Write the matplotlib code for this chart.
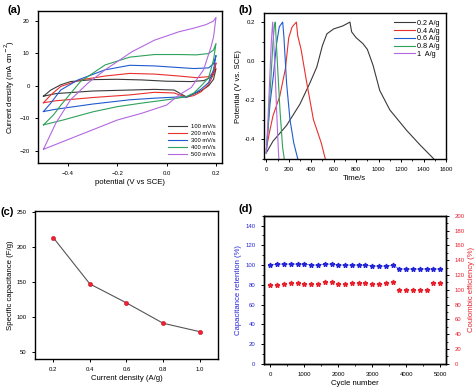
import numpy as np
import matplotlib.pyplot as plt
from matplotlib.ticker import AutoMinorLocator

plt.rcParams['font.family'] = ['Liberation Sans', 'DejaVu Sans']

# %% data
# (a) CV loops: forward (upper) and reverse (lower) branches
cv_labels = ["100 mV/s", "200 mV/s", "300 mV/s", "400 mV/s", "500 mV/s"]
cv_up_v = [
    [-0.5, -0.47, -0.43, -0.39, -0.3, -0.2, -0.1, 0.0, 0.1, 0.15, 0.18, 0.2],
    [-0.5, -0.47, -0.43, -0.35, -0.25, -0.15, -0.05, 0.05, 0.12, 0.17, 0.19, 0.2],
    [-0.5, -0.47, -0.43, -0.36, -0.25, -0.15, -0.05, 0.05, 0.11, 0.17, 0.19, 0.2],
    [-0.5, -0.46, -0.43, -0.35, -0.25, -0.15, -0.05, 0.05, 0.12, 0.17, 0.19, 0.2],
    [-0.5, -0.45, -0.39, -0.32, -0.25, -0.14, -0.05, 0.05, 0.11, 0.16, 0.19, 0.2],
]
cv_up_j = [
    [-3.2, -1.3, 0.3, 1.3, 1.9, 2.0, 1.8, 1.4, 1.3, 1.6, 2.6, 5.3],
    [-5.2, -2.8, -0.2, 1.8, 3.0, 3.8, 3.6, 3.0, 2.5, 2.8, 4.0, 7.0],
    [-7.9, -5.3, -1.3, 1.8, 4.9, 6.3, 6.1, 5.6, 5.3, 5.5, 6.8, 9.3],
    [-12.0, -9.0, -6.0, 1.3, 6.4, 8.8, 9.6, 9.6, 9.5, 9.9, 11.0, 13.0],
    [-19.5, -11.5, -4.3, 0.8, 4.9, 10.5, 14.0, 16.6, 17.7, 18.8, 19.9, 21.0],
]
cv_dn_v = [
    [0.2, 0.19, 0.17, 0.14, 0.11, 0.08, 0.06, 0.03, -0.05, -0.15, -0.3, -0.45, -0.5],
    [0.2, 0.19, 0.17, 0.14, 0.11, 0.08, 0.06, 0.03, -0.05, -0.15, -0.3, -0.45, -0.5],
    [0.2, 0.19, 0.17, 0.14, 0.11, 0.08, 0.06, 0.03, -0.05, -0.15, -0.3, -0.45, -0.5],
    [0.2, 0.19, 0.17, 0.14, 0.11, 0.08, 0.06, 0.0, -0.1, -0.2, -0.3, -0.42, -0.5],
    [0.2, 0.19, 0.18, 0.15, 0.1, 0.05, 0.0, -0.1, -0.2, -0.3, -0.4, -0.5],
]
cv_dn_j = [
    [5.3, 2.0, 0.0, -1.5, -2.5, -3.4, -2.6, -1.3, -1.1, -1.3, -1.6, -2.4, -3.2],
    [7.0, 3.5, 0.5, -1.8, -3.0, -3.5, -3.0, -2.2, -2.0, -2.8, -3.6, -4.6, -5.2],
    [9.3, 5.0, 1.0, -1.0, -2.4, -3.5, -3.4, -3.5, -3.8, -4.3, -5.6, -7.2, -7.9],
    [13.0, 8.0, 2.5, 0.0, -2.2, -3.3, -3.6, -4.3, -5.3, -6.4, -8.0, -10.5, -12.0],
    [21.0, 15.0, 12.0, 5.0, -0.5, -2.8, -5.9, -8.4, -10.5, -13.5, -16.5, -19.5],
]

# (b) GCD curves
gcd_labels = ["0.2 A/g", "0.4 A/g", "0.6 A/g", "0.8 A/g", "1  A/g"]
gcd_t = [
    [0, 60, 180, 300, 390, 450, 500, 540, 600, 680, 745,
     760, 800, 860, 900, 950, 1010, 1100, 1250, 1370, 1490],
    [0, 30, 60, 120, 170, 200, 230, 268, 280, 310, 360, 420, 490, 525],
    [0, 33, 62, 92, 116, 146, 157, 181, 211, 245, 280],
    [0, 20, 40, 60, 72, 80, 98, 122, 145, 160],
    [0, 15, 30, 45, 57, 75, 92, 107, 112],
]
gcd_v = [
    [-0.47, -0.41, -0.33, -0.22, -0.11, -0.03, 0.08, 0.14, 0.165, 0.18, 0.2,
     0.15, 0.12, 0.09, 0.06, -0.02, -0.15, -0.25, -0.355, -0.43, -0.5],
    [-0.45, -0.36, -0.28, -0.18, -0.04, 0.12, 0.175, 0.2, 0.13, 0.06, -0.11, -0.3, -0.42, -0.5],
    [-0.47, -0.22, -0.08, 0.09, 0.176, 0.2, 0.125, -0.114, -0.3, -0.42, -0.5],
    [-0.47, -0.3, -0.1, 0.1, 0.18, 0.2, 0.0, -0.25, -0.44, -0.5],
    [-0.47, -0.3, -0.1, 0.1, 0.2, 0.0, -0.25, -0.45, -0.5],
]

# (c) rate capability
cur_density = [0.2, 0.4, 0.6, 0.8, 1.0]
spec_cap = [213, 147, 120, 91, 79]

# (d) cycling
cycles = [0, 200, 400, 600, 800, 1000, 1200, 1400, 1600, 1800, 2000, 2200, 2400,
          2600, 2800, 3000, 3200, 3400, 3600, 3800, 4000, 4200, 4400, 4600, 4800, 5000]
retention = [100, 101, 101, 101, 101, 101, 100, 100, 101, 101, 100, 100, 100,
             100, 100, 99, 99, 99, 100, 96, 96, 96, 96, 96, 96, 96]
coulombic = [106, 107, 108, 109, 109, 108, 108, 108, 110, 110, 108, 108, 109,
             109, 109, 108, 108, 109, 110, 100, 100, 100, 100, 100, 109, 109]

colors = ["#3a3a3a", "#e8302c", "#1f5bd0", "#2ca25a", "#b468e0"]
tick_fs = 4.3
lab_fs = 5.6

fig = plt.figure(figsize=(4.74, 3.89), dpi=100)


def style(ax):
    for s in ax.spines.values():
        s.set_linewidth(1.0)
    ax.tick_params(labelsize=tick_fs, width=0.7, length=2.5, direction='out')
    ax.tick_params(which='minor', width=0.6, length=1.5, direction='out')


# %% (a)
ax = fig.add_axes([0.0802, 0.581, 0.388, 0.391])
for i in range(5):
    ax.plot(cv_up_v[i] + cv_dn_v[i], cv_up_j[i] + cv_dn_j[i], color=colors[i],
            lw=0.8, label=cv_labels[i])
ax.set_xlim(-0.522, 0.224)
ax.set_ylim(-23.7, 23)
ax.set_xticks([-0.4, -0.2, 0.0, 0.2])
ax.set_yticks([-20, -10, 0, 10, 20])
ax.set_xlabel("potential (V vs SCE)", fontsize=lab_fs, labelpad=2)
ax.set_ylabel("Current density (mA cm$^{-2}$)", fontsize=lab_fs, labelpad=2)
ax.legend(loc='lower right', fontsize=4.2, frameon=False, handlelength=3.2,
          labelspacing=0.35, borderaxespad=0.6)
style(ax)
fig.text(0.015, 0.975, "(a)", fontsize=8, fontweight='bold', va='center')

# %% (b)
ax = fig.add_axes([0.5563, 0.592, 0.3846, 0.3738])
for i in range(5):
    ax.plot(gcd_t[i], gcd_v[i], color=colors[i], lw=0.8, label=gcd_labels[i])
ax.set_xlim(-23, 1600)
ax.set_ylim(-0.5, 0.245)
ax.set_xticks(range(0, 1601, 200))
ax.set_yticks([-0.4, -0.2, 0.0, 0.2])
ax.set_yticklabels(["-0.4", "-0.2", "0.0", "0.2"])
ax.xaxis.set_minor_locator(AutoMinorLocator(2))
ax.yaxis.set_minor_locator(AutoMinorLocator(2))
ax.set_xlabel("Time/s", fontsize=lab_fs, labelpad=2)
ax.set_ylabel("Potential (V vs. SCE)", fontsize=lab_fs, labelpad=2)
ax.legend(loc='upper right', fontsize=5.2, frameon=False, handlelength=2.8,
          labelspacing=0.1, borderaxespad=0.5, handletextpad=0.3)
style(ax)
fig.text(0.503, 0.975, "(b)", fontsize=8, fontweight='bold', va='center')

# %% (c)
ax = fig.add_axes([0.0738, 0.0771, 0.386, 0.3805])
ax.plot(cur_density, spec_cap, color="#555555", lw=0.8, marker='o', ms=3,
        mfc="#ee2233", mec="#cc1122", mew=0.4)
ax.set_xlim(0.1, 1.1)
ax.set_ylim(40, 251)
ax.set_xticks(cur_density)
ax.set_yticks([50, 100, 150, 200, 250])
ax.set_xlabel("Current density (A/g)", fontsize=lab_fs, labelpad=2)
ax.set_ylabel("Specific capacitance (F/g)", fontsize=lab_fs, labelpad=2)
style(ax)
fig.text(0.002, 0.455, "(c)", fontsize=8, fontweight='bold', va='center')

# %% (d)
ax = fig.add_axes([0.5563, 0.0650, 0.3852, 0.3805])
blue = "#2424d8"
red = "#e8202c"
ax.plot(cycles, retention, color=blue, lw=0.4, marker='*', ms=3.5)
ax.set_xlim(-200, 5180)
ax.set_ylim(0, 150)
ax.set_xticks(range(0, 5001, 1000))
ax.set_yticks(range(0, 141, 20))
ax.xaxis.set_minor_locator(AutoMinorLocator(2))
ax.yaxis.set_minor_locator(AutoMinorLocator(2))
ax.set_xlabel("Cycle number", fontsize=lab_fs, labelpad=2)
ax.set_ylabel("Capacitance retention (%)", fontsize=lab_fs, color=blue, labelpad=2)
style(ax)
ax.tick_params(axis='y', labelcolor=blue)
ax2 = ax.twinx()
ax2.plot(cycles, coulombic, ls='none', color=red, marker='*', ms=3.5)
ax2.set_ylim(0, 200)
ax2.set_yticks(range(0, 201, 20))
ax2.yaxis.set_minor_locator(AutoMinorLocator(2))
ax2.set_ylabel("Coulombic efficiency (%)", fontsize=lab_fs, color=red, labelpad=2)
style(ax2)
ax2.tick_params(axis='y', labelcolor=red)
fig.text(0.503, 0.462, "(d)", fontsize=8, fontweight='bold', va='center')

fig.savefig("out.png", dpi=100)
